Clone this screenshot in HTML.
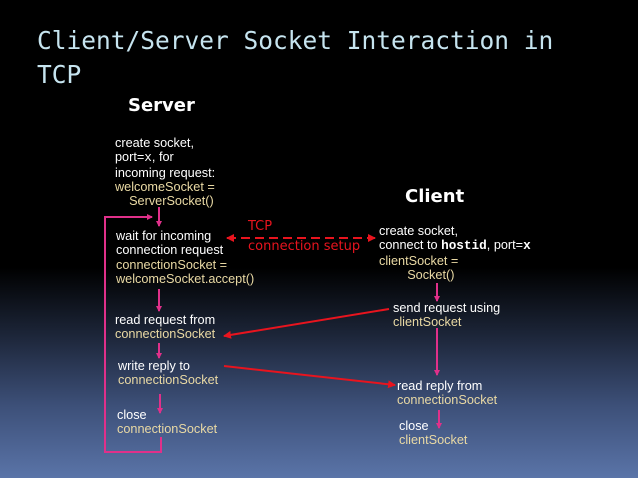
<!DOCTYPE html>
<html><head><style>
html,body{margin:0;padding:0}
body{width:638px;height:478px;overflow:hidden;position:relative;background:linear-gradient(to bottom,#000 0%,#000 56%,#1c2538 70%,#3d5079 85%,#5a74a8 100%);font-family:"Liberation Sans",sans-serif}
.t{position:absolute;color:#fff;font-size:12.7px;line-height:14.3px;white-space:nowrap}
.y{color:#e9d9a4}
.h{position:absolute;color:#fff;font-weight:bold;font-size:18px;font-family:"DejaVu Sans","Liberation Sans",sans-serif}
.title{position:absolute;left:37px;top:24px;color:#c6e4ef;font-family:"DejaVu Sans Mono","Liberation Mono",monospace;font-size:24.5px;line-height:34px}
.m{font-family:"Liberation Mono",monospace;font-weight:bold}
.r{position:absolute;color:#e8141e;font-family:"DejaVu Sans",sans-serif;font-size:13px;line-height:15px}
</style></head><body>
<div class="title">Client/Server Socket Interaction in<br>TCP</div>
<div class="h" style="left:128px;top:95px">Server</div>
<div class="h" style="left:405px;top:186px">Client</div>

<div class="t" style="left:115px;top:136px">create socket,<br>port=<span class="m" style="font-weight:normal">x</span>, for<br>incoming request:<br><span class="y">welcomeSocket =</span><br><span class="y">&nbsp;&nbsp;&nbsp;&nbsp;ServerSocket()</span></div>
<div class="t" style="left:116px;top:229px">wait for incoming<br>connection request<br><span class="y">connectionSocket =</span><br><span class="y">welcomeSocket.accept()</span></div>
<div class="t" style="left:115px;top:313px">read request from<br><span class="y">connectionSocket</span></div>
<div class="t" style="left:118px;top:359px">write reply to<br><span class="y">connectionSocket</span></div>
<div class="t" style="left:117px;top:408px">close<br><span class="y">connectionSocket</span></div>

<div class="t" style="left:379px;top:224px">create socket,<br>connect to <span class="m">hostid</span>, port=<span class="m">x</span><br><span class="y">clientSocket =</span><br><span class="y">&nbsp;&nbsp;&nbsp;&nbsp;&nbsp;&nbsp;&nbsp;&nbsp;Socket()</span></div>
<div class="t" style="left:393px;top:301px">send request using<br><span class="y">clientSocket</span></div>
<div class="t" style="left:397px;top:379px">read reply from<br><span class="y">connectionSocket</span></div>
<div class="t" style="left:399px;top:419px">close<br><span class="y">clientSocket</span></div>

<div class="r" style="left:248px;top:219px">TCP</div>
<div class="r" style="left:248px;top:239px">connection setup</div>

<svg width="638" height="478" style="position:absolute;left:0;top:0">
<defs>
<marker id="p" markerWidth="6" markerHeight="6" refX="5" refY="3" orient="auto" markerUnits="userSpaceOnUse"><path d="M0,0L6,3L0,6z" fill="#e0308a"/></marker>
<marker id="rr" markerWidth="8" markerHeight="8" refX="7" refY="4" orient="auto-start-reverse" markerUnits="userSpaceOnUse"><path d="M0,0L8,4L0,8z" fill="#e8141e"/></marker>
</defs>
<g stroke="#e0308a" stroke-width="2" fill="none">
<polyline points="161,437 161,452 105,452 105,217 152,217" marker-end="url(#p)"/>
<line x1="159" y1="207" x2="159" y2="226" marker-end="url(#p)"/>
<line x1="159" y1="289" x2="159" y2="311" marker-end="url(#p)"/>
<line x1="159" y1="343" x2="159" y2="358" marker-end="url(#p)"/>
<line x1="160" y1="394" x2="160" y2="413" marker-end="url(#p)"/>
<line x1="437" y1="283" x2="437" y2="301" marker-end="url(#p)"/>
<line x1="437" y1="328" x2="437" y2="375" marker-end="url(#p)"/>
<line x1="439" y1="410" x2="439" y2="428" marker-end="url(#p)"/>
</g>
<g stroke="#e8141e" stroke-width="2" fill="none">
<line x1="227" y1="238" x2="375" y2="238" stroke-dasharray="9,5" marker-start="url(#rr)" marker-end="url(#rr)"/>
<line x1="389" y1="309" x2="224" y2="336" marker-end="url(#rr)"/>
<line x1="224" y1="366" x2="395" y2="385" marker-end="url(#rr)"/>
</g>
</svg>
</body></html>
